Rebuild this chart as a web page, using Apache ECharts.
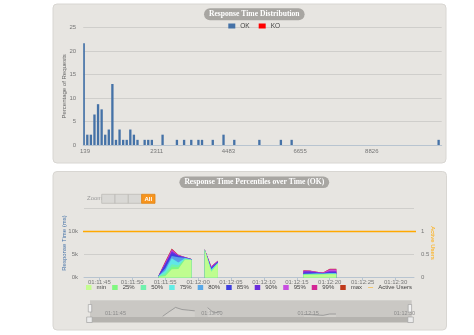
<!DOCTYPE html>
<html><head><meta charset="utf-8">
<script src="https://cdn.jsdelivr.net/npm/echarts@6/dist/echarts.min.js"></script>
<style>html,body{margin:0;padding:0;background:#fff;}#c{width:474px;height:335px;}</style>
</head><body><div id="c"></div>
<script>
// ---------- Response Time Distribution (top) ----------
const distTickLabels = ['139', '2311', '4483', '6655', '8826'];
const okPercent = [
  21.7, 2.2, 2.2, 6.5, 8.7, 7.6, 2.2, 3.3, 13.0, 1.1,
  3.3, 1.1, 1.1, 3.3, 2.2, 1.1, 0, 1.1, 1.1, 1.1,
  0, 0, 2.2, 0, 0, 0, 1.1, 0, 1.1, 0,
  1.1, 0, 1.1, 1.1, 0, 0, 1.1, 0, 0, 2.2,
  0, 0, 1.1, 0, 0, 0, 0, 0, 0, 1.1,
  0, 0, 0, 0, 0, 1.1, 0, 0, 1.1, 0,
  0, 0, 0, 0, 0, 0, 0, 0, 0, 0,
  0, 0, 0, 0, 0, 0, 0, 0, 0, 0,
  0, 0, 0, 0, 0, 0, 0, 0, 0, 0,
  0, 0, 0, 0, 0, 0, 0, 0, 0, 1.1
];
const koPercent = [];

// ---------- Response Time Percentiles over Time (bottom) ----------
const times = ['01:11:54', '01:11:55', '01:11:56', '01:11:57', '01:11:58', '01:11:59', '01:12:00',
               '01:12:01', '01:12:02', '01:12:03', '01:12:04',
               '01:12:16', '01:12:17', '01:12:18', '01:12:19', '01:12:20', '01:12:21'];
const pMin = [200, 300, 1800, 1900, 3900, 3800, null, 6100, 1300, 3000, null, 600, 650, 650, 700, 750, 750];
const p25  = [250, 600, 2300, 2300, 4000, 3850, null, 6100, 1400, 3100, null, 700, 700, 700, 750, 800, 800];
const p50  = [300, 1000, 2900, 2700, 4100, 3900, null, 6100, 1500, 3150, null, 750, 750, 800, 800, 850, 850];
const p75  = [350, 1500, 4200, 3300, 4200, 3950, null, 6100, 1700, 3200, null, 800, 800, 850, 850, 900, 900];
const p80  = [400, 2000, 4700, 4400, 4300, 4000, null, 6100, 1900, 3300, null, 850, 900, 950, 900, 1000, 1000];
const p85  = [450, 2800, 5300, 4700, 4350, 4000, null, 6120, 2100, 3450, null, 1000, 1100, 1050, 950, 1200, 1200];
const p90  = [500, 3000, 5700, 4800, 4400, 4020, null, 6120, 2200, 3550, null, 1400, 1400, 1200, 1000, 1400, 1400];
const p95  = [500, 3200, 6000, 4850, 4450, 4030, null, 6130, 2400, 3600, null, 1500, 1500, 1250, 1050, 1700, 1700];
const p99  = [500, 3400, 6200, 4900, 4500, 4050, null, 6140, 2500, 3650, null, 1550, 1500, 1300, 1100, 1900, 1900];
const pMax = [500, 3500, 6300, 4950, 4500, 4050, null, 6150, 2500, 3650, null, 1600, 1550, 1300, 1100, 1950, 1950];
const pctNames = ['min', '25%', '50%', '75%', '80%', '85%', '90%', '95%', '99%', 'max'];
const activeTimes = ['01:11:42', '01:12:34'];
const activeUsers = [1, 1];
const timeTickLabels = ['01:11:45', '01:11:50', '01:11:55', '01:12:00', '01:12:05',
                        '01:12:10', '01:12:15', '01:12:20', '01:12:25', '01:12:30'];
const navTickLabels = ['01:11:45', '01:12:00', '01:12:15', '01:12:30'];

// ---------- helpers ----------
const toSec = s => { const [h, m, x] = s.split(':').map(Number); return h * 3600 + m * 60 + x; };
const pad = n => String(n).padStart(2, '0');
const fmtSec = v => { v = Math.round(v); return pad(Math.floor(v / 3600)) + ':' + pad(Math.floor(v % 3600 / 60)) + ':' + pad(v % 60); };

const pctValues = [pMin, p25, p50, p75, p80, p85, p90, p95, p99, pMax];
const pctColors = ['#c4fd90', '#7ff77f', '#6ff2ad', '#61ede6', '#58a8e8', '#3e3ee0', '#6a2cdc', '#c84ee0', '#d42694', '#c0391b'];
const xMin = toSec(timeTickLabels[0]) - 2.33;
const xMax = toSec(timeTickLabels[0]) + 47.8;
const FONT = 'Liberation Sans';

const pctSeries = pctNames.map((n, i) => ({
  name: n, type: 'line', xAxisIndex: 1, yAxisIndex: 1,
  data: times.map((t, j) => [toSec(t), pctValues[i][j] === null ? '-' : pctValues[i][j]]),
  showSymbol: false, symbol: 'none', color: pctColors[i],
  lineStyle: { width: 0 }, areaStyle: { color: pctColors[i], opacity: 0.92 },
  connectNulls: false, animation: false
})).reverse();

const chart = echarts.init(document.getElementById('c'), null, { renderer: 'canvas' });
chart.setOption({
  backgroundColor: '#ffffff',
  animation: false,
  textStyle: { fontFamily: FONT },
  graphic: [
    { type: 'rect', z: -100, shape: { x: 53, y: 4, width: 393, height: 159, r: 4 },
      style: { fill: '#e7e5e1', stroke: '#d8d6d2', lineWidth: 1 } },
    { type: 'rect', z: -100, shape: { x: 53, y: 171.5, width: 393.5, height: 158.5, r: 4 },
      style: { fill: '#e7e5e1', stroke: '#d8d6d2', lineWidth: 1 } },
    // zoom buttons
    { type: 'text', style: { x: 87, y: 198.8, text: 'Zoom', fill: '#9a9a9a', fontSize: 6, fontFamily: FONT, verticalAlign: 'middle' } },
    { type: 'rect', shape: { x: 101.7, y: 194.3, width: 13.3, height: 9 }, style: { fill: '#d9d8d5', stroke: '#bdbbb8', lineWidth: 0.8 } },
    { type: 'rect', shape: { x: 115, y: 194.3, width: 13.3, height: 9 }, style: { fill: '#d9d8d5', stroke: '#bdbbb8', lineWidth: 0.8 } },
    { type: 'rect', shape: { x: 128.3, y: 194.3, width: 13.3, height: 9 }, style: { fill: '#d9d8d5', stroke: '#bdbbb8', lineWidth: 0.8 } },
    { type: 'rect', shape: { x: 141.6, y: 194.3, width: 13.4, height: 9 }, style: { fill: '#f7941d', stroke: '#e08417', lineWidth: 0.8 } },
    { type: 'text', style: { x: 148.3, y: 198.9, text: 'All', fill: '#ffffff', fontSize: 6, fontWeight: 'bold', fontFamily: FONT, align: 'center', verticalAlign: 'middle' } },
    // scrollbar of navigator
    { type: 'rect', shape: { x: 86.7, y: 317, width: 326.6, height: 5.5 }, style: { fill: '#b5b3af' } },
    { type: 'rect', shape: { x: 86.7, y: 317, width: 5.5, height: 5.5 }, style: { fill: '#ebebeb', stroke: '#a0a0a0', lineWidth: 0.6 } },
    { type: 'rect', shape: { x: 407.8, y: 317, width: 5.5, height: 5.5 }, style: { fill: '#ebebeb', stroke: '#a0a0a0', lineWidth: 0.6 } },
    // navigator handles
    { type: 'rect', z: 50, shape: { x: 88.3, y: 304.5, width: 3.4, height: 7.5 }, style: { fill: '#f2f2f2', stroke: '#9a9a9a', lineWidth: 0.6 } },
    { type: 'rect', z: 50, shape: { x: 408.2, y: 304.5, width: 3.4, height: 7.5 }, style: { fill: '#f2f2f2', stroke: '#9a9a9a', lineWidth: 0.6 } }
  ],
  title: [
    { text: 'Response Time Distribution', left: 249.3, top: 8.3, textAlign: 'center',
      backgroundColor: '#a8a6a2', borderRadius: 6, padding: [2.2, 5, 1.8, 5],
      textStyle: { color: '#fff', fontSize: 7.6, fontWeight: 'bold', fontFamily: 'Liberation Serif' } },
    { text: 'Response Time Percentiles over Time (OK)', left: 249.3, top: 176.5, textAlign: 'center',
      backgroundColor: '#a8a6a2', borderRadius: 6, padding: [2, 5, 1.6, 5],
      textStyle: { color: '#fff', fontSize: 7.6, fontWeight: 'bold', fontFamily: 'Liberation Serif' } }
  ],
  legend: [
    { data: ['OK', 'KO'], left: 228.3, top: 22.5, padding: 0, itemWidth: 7, itemHeight: 5, itemGap: 9, icon: 'rect',
      textStyle: { fontSize: 6.5, color: '#444', fontFamily: FONT } },
    { data: pctNames.map(n => ({ name: n, icon: 'rect' })).concat([
        { name: 'Active Users', icon: 'path://M0,0L0.01,0M0,4.3L10,4.3L10,5.7L0,5.7ZM0,10L0.01,10' }]),
      left: 86, top: 284.5, padding: 0, itemWidth: 5.5, itemHeight: 5, itemGap: 6,
      textStyle: { fontSize: 6, color: '#444', width: 12, fontFamily: FONT } }
  ],
  grid: [
    { left: 83.2, right: 32.3, top: 27.7, bottom: 190 },
    { left: 84, right: 60, top: 208.3, bottom: 57.3 },
    { left: 90, width: 321.7, top: 300.3, height: 16.7, show: true, backgroundColor: '#cac8c4', borderWidth: 0 }
  ],
  xAxis: [
    { type: 'category', gridIndex: 0, data: okPercent.map((_, i) => i), boundaryGap: true,
      axisLine: { lineStyle: { color: '#b8c4d0' } },
      axisTick: { alignWithLabel: true, interval: (i) => i % 20 === 0, length: 3, lineStyle: { color: '#b8c4d0' } },
      axisLabel: { interval: (i) => i % 20 === 0, formatter: (v, i) => distTickLabels[i / 20], fontSize: 6, color: '#777', margin: 3 } },
    { type: 'value', gridIndex: 1, min: xMin, max: xMax,
      axisLine: { lineStyle: { color: '#b8c4d0' } },
      axisTick: { customValues: timeTickLabels.map(toSec), length: 3, lineStyle: { color: '#b8c4d0' } },
      axisLabel: { customValues: timeTickLabels.map(toSec), formatter: fmtSec, fontSize: 6, color: '#777', margin: 2 },
      splitLine: { show: false } },
    { type: 'value', gridIndex: 2, min: xMin, max: xMax,
      axisLine: { show: false }, axisTick: { show: false }, splitLine: { show: false },
      axisLabel: { inside: true, customValues: navTickLabels.map(toSec), formatter: fmtSec, align: 'left',
                   fontSize: 5.5, color: '#8a8a8a', margin: 1 } }
  ],
  yAxis: [
    { type: 'value', gridIndex: 0, min: 0, max: 25, interval: 5,
      name: 'Percentage of Requests', nameLocation: 'middle', nameGap: 16, nameMoveOverlap: false,
      nameTextStyle: { fontSize: 6, color: '#666' },
      axisLine: { show: false }, axisTick: { show: false },
      axisLabel: { fontSize: 6, color: '#777', margin: 7 },
      splitLine: { lineStyle: { color: '#c9c8c5', width: 0.8 } } },
    { type: 'value', gridIndex: 1, min: 0, max: 15000, interval: 5000,
      name: 'Response Time (ms)', nameLocation: 'middle', nameGap: 17, nameMoveOverlap: false,
      nameTextStyle: { fontSize: 6, color: '#4572A7' },
      axisLine: { show: false }, axisTick: { show: false },
      axisLabel: { fontSize: 6, color: '#777', margin: 6, formatter: v => v >= 15000 ? '' : (v / 1000) + 'k' },
      splitLine: { lineStyle: { color: '#c9c8c5', width: 0.8 } } },
    { type: 'value', gridIndex: 1, position: 'right', min: 0, max: 1.5, interval: 0.5,
      name: 'Active Users', nameLocation: 'middle', nameGap: 16, nameRotate: -90, nameMoveOverlap: false,
      nameTextStyle: { fontSize: 6, color: '#FFA900' },
      axisLine: { show: false }, axisTick: { show: false },
      axisLabel: { fontSize: 6, color: '#777', margin: 7, formatter: v => v >= 1.5 ? '' : String(v) },
      splitLine: { show: false } },
    { type: 'value', gridIndex: 2, min: 0, max: 11000, show: false }
  ],
  series: [
    { name: 'OK', type: 'bar', xAxisIndex: 0, yAxisIndex: 0, data: okPercent, color: '#4572A7', barWidth: '65%' },
    { name: 'KO', type: 'bar', xAxisIndex: 0, yAxisIndex: 0, data: koPercent, color: '#FF0000', barWidth: '65%' },
    ...pctSeries,
    { name: 'Active Users', type: 'line', xAxisIndex: 1, yAxisIndex: 2, color: '#FFA900',
      data: activeTimes.map((t, j) => [toSec(t), activeUsers[j]]),
      showSymbol: false, symbol: 'none', lineStyle: { width: 1.5 }, z: 30 },
    { name: 'navigator', type: 'line', xAxisIndex: 2, yAxisIndex: 3,
      data: times.map((t, j) => [toSec(t), pMax[j] === null ? '-' : pMax[j]]),
      showSymbol: false, symbol: 'none', color: '#8f8f8f',
      lineStyle: { width: 0.8, color: '#8f8f8f' }, areaStyle: { color: '#ffffff', opacity: 0.15 } }
  ]
});
</script>
</body></html>
